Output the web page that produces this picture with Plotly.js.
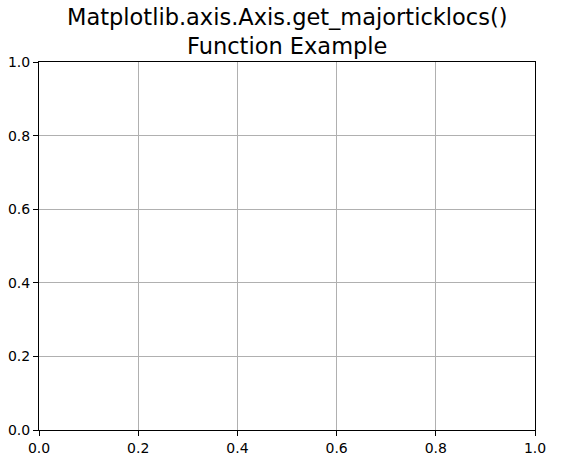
<!DOCTYPE html>
<html>
<head>
<meta charset="utf-8">
<script src="https://cdn.plot.ly/plotly-3.0.1.min.js"></script>
<style>
  html, body { margin: 0; padding: 0; background: #fff; }
  #chart { width: 568px; height: 466px; }
</style>
</head>
<body>
<div id="chart"></div>
<script>
// empty axes, only ticks and grid
const xRange = [0, 1]
const yRange = [0, 1]
const xTicks = [0, 0.2, 0.4, 0.6, 0.8, 1.0]
const yTicks = [0, 0.2, 0.4, 0.6, 0.8, 1.0]
const tickText = ['0.0', '0.2', '0.4', '0.6', '0.8', '1.0']
const titleLines = ['Matplotlib.axis.Axis.get_majorticklocs()', 'Function Example']

const axisStyle = {
  showline: true,
  linecolor: '#000000',
  linewidth: 1,
  mirror: true,
  ticks: 'outside',
  ticklen: 5,
  tickwidth: 1,
  tickcolor: '#000000',
  showgrid: true,
  gridcolor: '#b0b0b0',
  gridwidth: 1,
  zeroline: false,
  tickmode: 'array',
  tickfont: { family: 'DejaVu Sans', size: 14, color: '#000000' },
  fixedrange: true,
}

const layout = {
  width: 568,
  height: 466,
  margin: { t: 62, r: 33, b: 36, l: 39 },
  paper_bgcolor: '#ffffff',
  plot_bgcolor: '#ffffff',
  showlegend: false,
  // the title as an annotation, plotly moves a multi-line title off the top
  annotations: [{
    text: titleLines.join('<br>'),
    font: { family: 'DejaVu Sans', size: 22.5, color: '#000000' },
    showarrow: false,
    xref: 'paper',
    yref: 'paper',
    x: 0.5,
    y: 1.004,
    xanchor: 'center',
    yanchor: 'bottom',
    align: 'center',
  }],
  xaxis: Object.assign({}, axisStyle, {
    range: xRange,
    tickvals: xTicks,
    ticktext: tickText,
  }),
  yaxis: Object.assign({}, axisStyle, {
    range: yRange,
    tickvals: yTicks,
    ticktext: tickText,
  }),
}

const data = [{ type: 'scatter', mode: 'lines', x: [], y: [], hoverinfo: 'skip' }]

Plotly.newPlot('chart', data, layout, { staticPlot: true, displayModeBar: false })
</script>
</body>
</html>
